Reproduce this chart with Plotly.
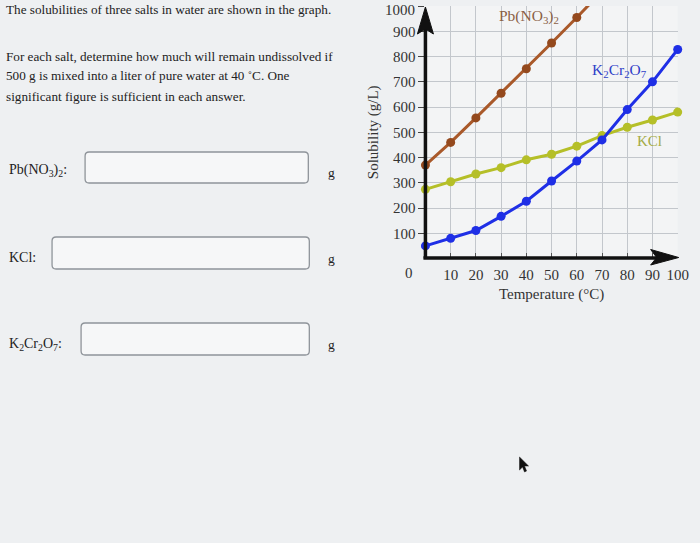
import plotly.graph_objects as go

W, H = 700, 543
SX = 1.017  # horizontal compensation observed in the renderer

# ---- data ----
temps = [0, 10, 20, 30, 40, 50, 60, 70, 80, 90, 100]
pb_temps = [0, 10, 20, 30, 40, 50, 60, 65]
pb_no3 = [370, 460, 557, 655, 752, 854, 955, 1007]
k2cr2o7 = [50, 80, 111, 167, 227, 307, 386, 470, 590, 700, 828]
kcl = [274, 304, 335, 360, 391, 413, 445, 487, 520, 549, 580]

x_ticks = [10, 20, 30, 40, 50, 60, 70, 80, 90, 100]
y_ticks = [100, 200, 300, 400, 500, 600, 700, 800, 900, 1000]

PB_C = "#a9592a"
K2_C = "#1f2fe6"
KCL_C = "#b5bf28"
SERIF = "Liberation Serif"


def px(x):
    return x * SX / W


def py(y):
    return 1 - y / H


fig = go.Figure()

fig.add_trace(go.Scatter(x=temps, y=kcl, mode="lines+markers",
                         line=dict(color=KCL_C, width=3),
                         marker=dict(size=9, color=KCL_C), cliponaxis=False,
                         showlegend=False))
fig.add_trace(go.Scatter(x=temps, y=k2cr2o7, mode="lines+markers",
                         line=dict(color=K2_C, width=3),
                         marker=dict(size=9, color=K2_C), cliponaxis=False,
                         showlegend=False))
fig.add_trace(go.Scatter(x=pb_temps, y=pb_no3, mode="lines+markers",
                         line=dict(color=PB_C, width=3),
                         marker=dict(size=9, color="#94491d"), cliponaxis=False,
                         showlegend=False))

x0p, x1p = 425, 677
y0p, y1p = 258.5, 6

y_text = [str(v) if v < 1000 else "" for v in y_ticks]

fig.update_layout(
    width=W, height=H,
    margin=dict(l=0, r=0, t=0, b=0),
    paper_bgcolor="#eef0f2",
    plot_bgcolor="#f3f4f5",
    font=dict(family=SERIF, color="#222"),
    xaxis=dict(domain=[px(x0p), px(x1p)], range=[0, 100],
               tickvals=x_ticks, ticktext=[str(v) for v in x_ticks],
               showgrid=True, gridcolor="#c3c7cc", gridwidth=1,
               ticks="inside", ticklen=6, tickcolor="#555",
               ticklabelstandoff=5,
               tickfont=dict(family=SERIF, size=15, color="#333"),
               zeroline=False, showline=False,
               title=dict(text="Temperature (°C)", standoff=6,
                          font=dict(family=SERIF, size=15, color="#333"))),
    yaxis=dict(domain=[py(y0p), py(y1p)], range=[0, 1000.5],
               tickvals=y_ticks, ticktext=y_text,
               showgrid=True, gridcolor="#c3c7cc", gridwidth=1,
               ticks="outside", ticklen=6, tickcolor="#444",
               tickfont=dict(family=SERIF, size=15, color="#333"),
               zeroline=False, showline=False,
               title=dict(text="Solubility (g/L)", standoff=10,
                          font=dict(family=SERIF, size=15, color="#333"))),
)

shapes = []
# axis lines with arrowheads (pixel positions)
shapes.append(dict(type="line", xref="paper", yref="paper",
                   x0=px(425), y0=py(258.5), x1=px(425), y1=py(20),
                   line=dict(color="#111", width=3.5)))
shapes.append(dict(type="path", xref="paper", yref="paper",
                   path=f"M {px(425)} {py(7)} L {px(417)} {py(34)} L {px(425)} {py(29)} L {px(433)} {py(34)} Z",
                   fillcolor="#111", line=dict(color="#111", width=1)))
shapes.append(dict(type="line", xref="paper", yref="paper",
                   x0=px(423), y0=py(258), x1=px(665), y1=py(258),
                   line=dict(color="#111", width=3.5)))
shapes.append(dict(type="path", xref="paper", yref="paper",
                   path=f"M {px(678)} {py(257.5)} L {px(650)} {py(249.5)} L {px(656)} {py(257.5)} L {px(650)} {py(265)} Z",
                   fillcolor="#111", line=dict(color="#111", width=1)))


def rbox(x0, y0, x1, y1, r=4):
    p = (f"M {px(x0 + r)} {py(y0)} L {px(x1 - r)} {py(y0)} "
         f"Q {px(x1)} {py(y0)} {px(x1)} {py(y0 + r)} "
         f"L {px(x1)} {py(y1 - r)} Q {px(x1)} {py(y1)} {px(x1 - r)} {py(y1)} "
         f"L {px(x0 + r)} {py(y1)} Q {px(x0)} {py(y1)} {px(x0)} {py(y1 - r)} "
         f"L {px(x0)} {py(y0 + r)} Q {px(x0)} {py(y0)} {px(x0 + r)} {py(y0)} Z")
    return dict(type="path", xref="paper", yref="paper", path=p,
                fillcolor="#f6f7f8", line=dict(color="#8f949a", width=1.3))


shapes.append(rbox(85, 152, 308, 183))
shapes.append(rbox(52, 237, 309, 269))
shapes.append(rbox(81, 323, 309, 355))
# mouse cursor
shapes.append(dict(type="path", xref="paper", yref="paper",
                   path=(f"M {px(519)} {py(457)} L {px(519)} {py(470)} L {px(522)} {py(467)} "
                         f"L {px(524)} {py(472)} L {px(526)} {py(471)} L {px(524)} {py(466)} "
                         f"L {px(528)} {py(466)} Z"),
                   fillcolor="#111", line=dict(color="#111", width=0.5)))
fig.update_layout(shapes=shapes)

ann = []


def txt(x, y, s, size=13.2, color="#222", xanchor="left", yanchor="middle"):
    ann.append(dict(x=px(x), y=py(y), xref="paper", yref="paper", text=s,
                    showarrow=False, xanchor=xanchor, yanchor=yanchor,
                    font=dict(family=SERIF, size=size, color=color)))


txt(4, 0, "The solubilities of three salts in water are shown in the graph.", yanchor="top")
txt(4, 57, "For each salt, determine how much will remain undissolved if")
txt(4, 76, "500 g is mixed into a liter of pure water at 40 ˚C. One")
txt(4, 96, "significant figure is sufficient in each answer.")
txt(7, 170, "Pb(NO<sub>3</sub>)<sub>2</sub>:", 14)
txt(7, 257, "KCl:", 14)
txt(7, 344, "K<sub>2</sub>Cr<sub>2</sub>O<sub>7</sub>:", 14)
txt(326, 172, "g", 13.5)
txt(326, 258, "g", 13.5)
txt(326, 344, "g", 13.5)
txt(409, 273, "0", 15, "#333", "center")
txt(417, 0, "1000", 15, "#333", "right", "top")

# series labels on the chart
ann.append(dict(x=41, y=958, xref="x", yref="y", showarrow=False,
                text="Pb(NO<sub>3</sub>)<sub>2</sub>",
                font=dict(family=SERIF, size=15.5, color="#8a5f45")))
ann.append(dict(x=77, y=746, xref="x", yref="y", showarrow=False,
                text="K<sub>2</sub>Cr<sub>2</sub>O<sub>7</sub>",
                font=dict(family=SERIF, size=15.5, color="#3040c8")))
ann.append(dict(x=89, y=465, xref="x", yref="y", showarrow=False,
                text="KCl",
                font=dict(family=SERIF, size=15, color="#a3ab45")))
fig.update_layout(annotations=ann)

fig.write_html(
    "out.html",
    config={"staticPlot": True, "displayModeBar": False},
    post_script=("document.body.style.margin='0';"
                 "document.body.style.overflow='hidden';"
                 "document.body.style.background='#eef0f2';"
                 "var gd=document.getElementById('{plot_id}');"
                 "gd.style.position='fixed';gd.style.left='0px';gd.style.top='0px';"),
)
